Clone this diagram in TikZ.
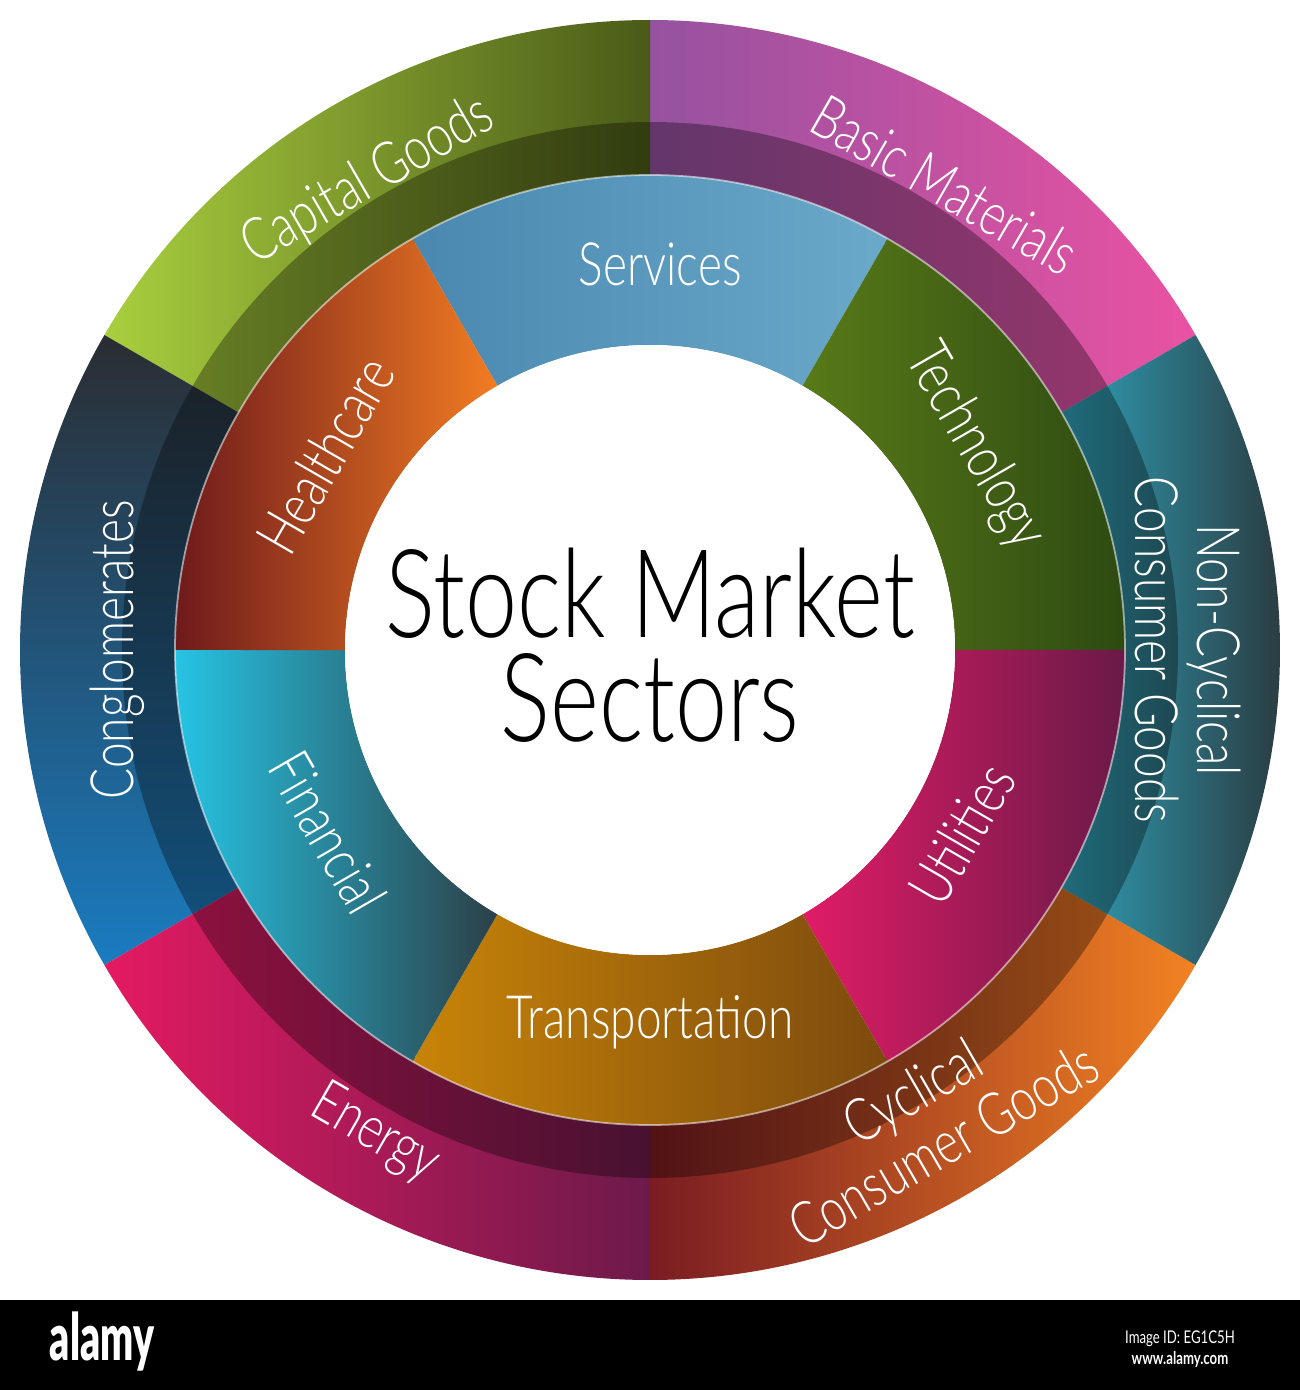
\documentclass[tikz,border=0pt]{standalone}
\usepackage{fontspec}
\setmainfont{Lato}
\newfontfamily\lab{Lato}[UprightFont=* Light, FakeStretch=0.77]
\newfontfamily\ttlfont{Lato}[UprightFont=* Light, FakeStretch=0.76]
\newfontfamily\alamyfont{Lato}[UprightFont=* Black, FakeStretch=0.6]
\newfontfamily\smallfont{Lato}[FakeStretch=0.75]
\definecolor{svcL}{HTML}{4A88B0}\definecolor{svcR}{HTML}{6AA9C9}
\definecolor{techL}{HTML}{587A18}\definecolor{techR}{HTML}{2E4A12}
\definecolor{utilL}{HTML}{E01C66}\definecolor{utilR}{HTML}{6A1A48}
\definecolor{tranL}{HTML}{C88408}\definecolor{tranR}{HTML}{7C4A0E}
\definecolor{finL}{HTML}{26C4E4}\definecolor{finR}{HTML}{2C4048}
\definecolor{hlthL}{HTML}{6E1A1C}\definecolor{hlthR}{HTML}{F27C22}
\definecolor{capL}{HTML}{A9CF3E}\definecolor{capR}{HTML}{4A5A18}
\definecolor{basL}{HTML}{9552A0}\definecolor{basR}{HTML}{EA52A2}
\definecolor{ncL}{HTML}{2FA3BA}\definecolor{ncR}{HTML}{2A3034}
\definecolor{cycL}{HTML}{7A1C22}\definecolor{cycR}{HTML}{F28222}
\definecolor{enL}{HTML}{E41A62}\definecolor{enR}{HTML}{6C1A4A}
\definecolor{conT}{HTML}{2A2D32}\definecolor{conB}{HTML}{1A7CC0}
\newcommand\ringsector[5]{%
  \path[#5] (#1:#3) arc[start angle=#1,end angle=#2,radius=#3]
    -- (#2:#4) arc[start angle=#2,end angle=#1,radius=#4] -- cycle;}
\tikzset{
  lbl/.style={text=white, font=\lab\fontsize{17}{17.5}\selectfont, align=center, inner sep=0pt},
  title/.style={text=black, font=\ttlfont\fontsize{35}{29.5}\selectfont, align=center, inner sep=0pt}
}
\begin{document}
\begin{tikzpicture}
\useasboundingbox (0,0) rectangle (13,13.9);
\fill[white] (0,0) rectangle (13,13.9);
% bottom bar
\fill[black] (0,0) rectangle (13,0.9);
\node[text=white, font=\alamyfont\fontsize{18.5}{18.5}\selectfont, inner sep=0pt] (alamy) at (1.02,0.48) {alamy};
\node[text=white, font=\smallfont\fontsize{5}{6.2}\selectfont, align=center, inner sep=0pt] (imgid) at (11.8,0.41) {Image ID: EG1C5H\\\textbf{www.alamy.com}};
\begin{scope}[shift={(6.5,7.4)}]
  % outer ring sectors
  \ringsector{30}{90}{4.70}{6.30}{left color=basL, right color=basR}
  \ringsector{90}{150}{4.70}{6.30}{left color=capL, right color=capR}
  \ringsector{150}{210}{4.70}{6.30}{top color=conT, bottom color=conB}
  \ringsector{210}{270}{4.70}{6.30}{left color=enL, right color=enR}
  \ringsector{270}{330}{4.70}{6.30}{left color=cycL, right color=cycR}
  \ringsector{-30}{30}{4.70}{6.30}{left color=ncL, right color=ncR}
  % dark band
  \fill[black, opacity=0.33, even odd rule] (0,0) circle[radius=5.28] (0,0) circle[radius=4.70];
  % inner ring sectors
  \ringsector{60}{120}{3.05}{4.75}{left color=svcL, right color=svcR}
  \ringsector{0}{60}{3.05}{4.75}{left color=techL, right color=techR}
  \ringsector{-60}{0}{3.05}{4.75}{left color=utilL, right color=utilR}
  \ringsector{240}{300}{3.05}{4.75}{left color=tranL, right color=tranR}
  \ringsector{180}{240}{3.05}{4.75}{left color=finL, right color=finR}
  \ringsector{120}{180}{3.05}{4.75}{left color=hlthL, right color=hlthR}
  \draw[white, opacity=0.55, line width=0.5pt] (0,0) circle[radius=4.75];
  \fill[white] (0,0) circle[radius=3.05];
  % center title
  \node[title] (ttl) at (0,0.05) {Stock Market\\Sectors};
  % inner labels
  \node[lbl] (services) at (88.5:3.86) {Services};
  \node[lbl, rotate=-60] (tech) at (32:3.83) {Technology};
  \node[lbl, rotate=60] (util) at (-30.5:3.62) {Utilities};
  \node[lbl] (trans) at (270:3.72) {Transportation};
  \node[lbl, rotate=-60] (fin) at (209.5:3.70) {Financial};
  \node[lbl, rotate=60] (health) at (149:3.79) {Healthcare};
  % outer labels
  \node[lbl, rotate=30] (capital) at (121:5.47) {Capital Goods};
  \node[lbl, rotate=-30] (basic) at (57.6:5.51) {Basic Materials};
  \node[lbl, rotate=-90] (noncyc) at (0:5.38) {Non-Cyclical\\Consumer Goods};
  \node[lbl, rotate=30] (cyc) at (-59.3:5.44) {Cyclical\\Consumer Goods};
  \node[lbl, rotate=-30] (energy) at (240.4:5.57) {Energy};
  \node[lbl, rotate=90] (cong) at (180:5.33) {Conglomerates};
\end{scope}
\end{tikzpicture}
\end{document}
